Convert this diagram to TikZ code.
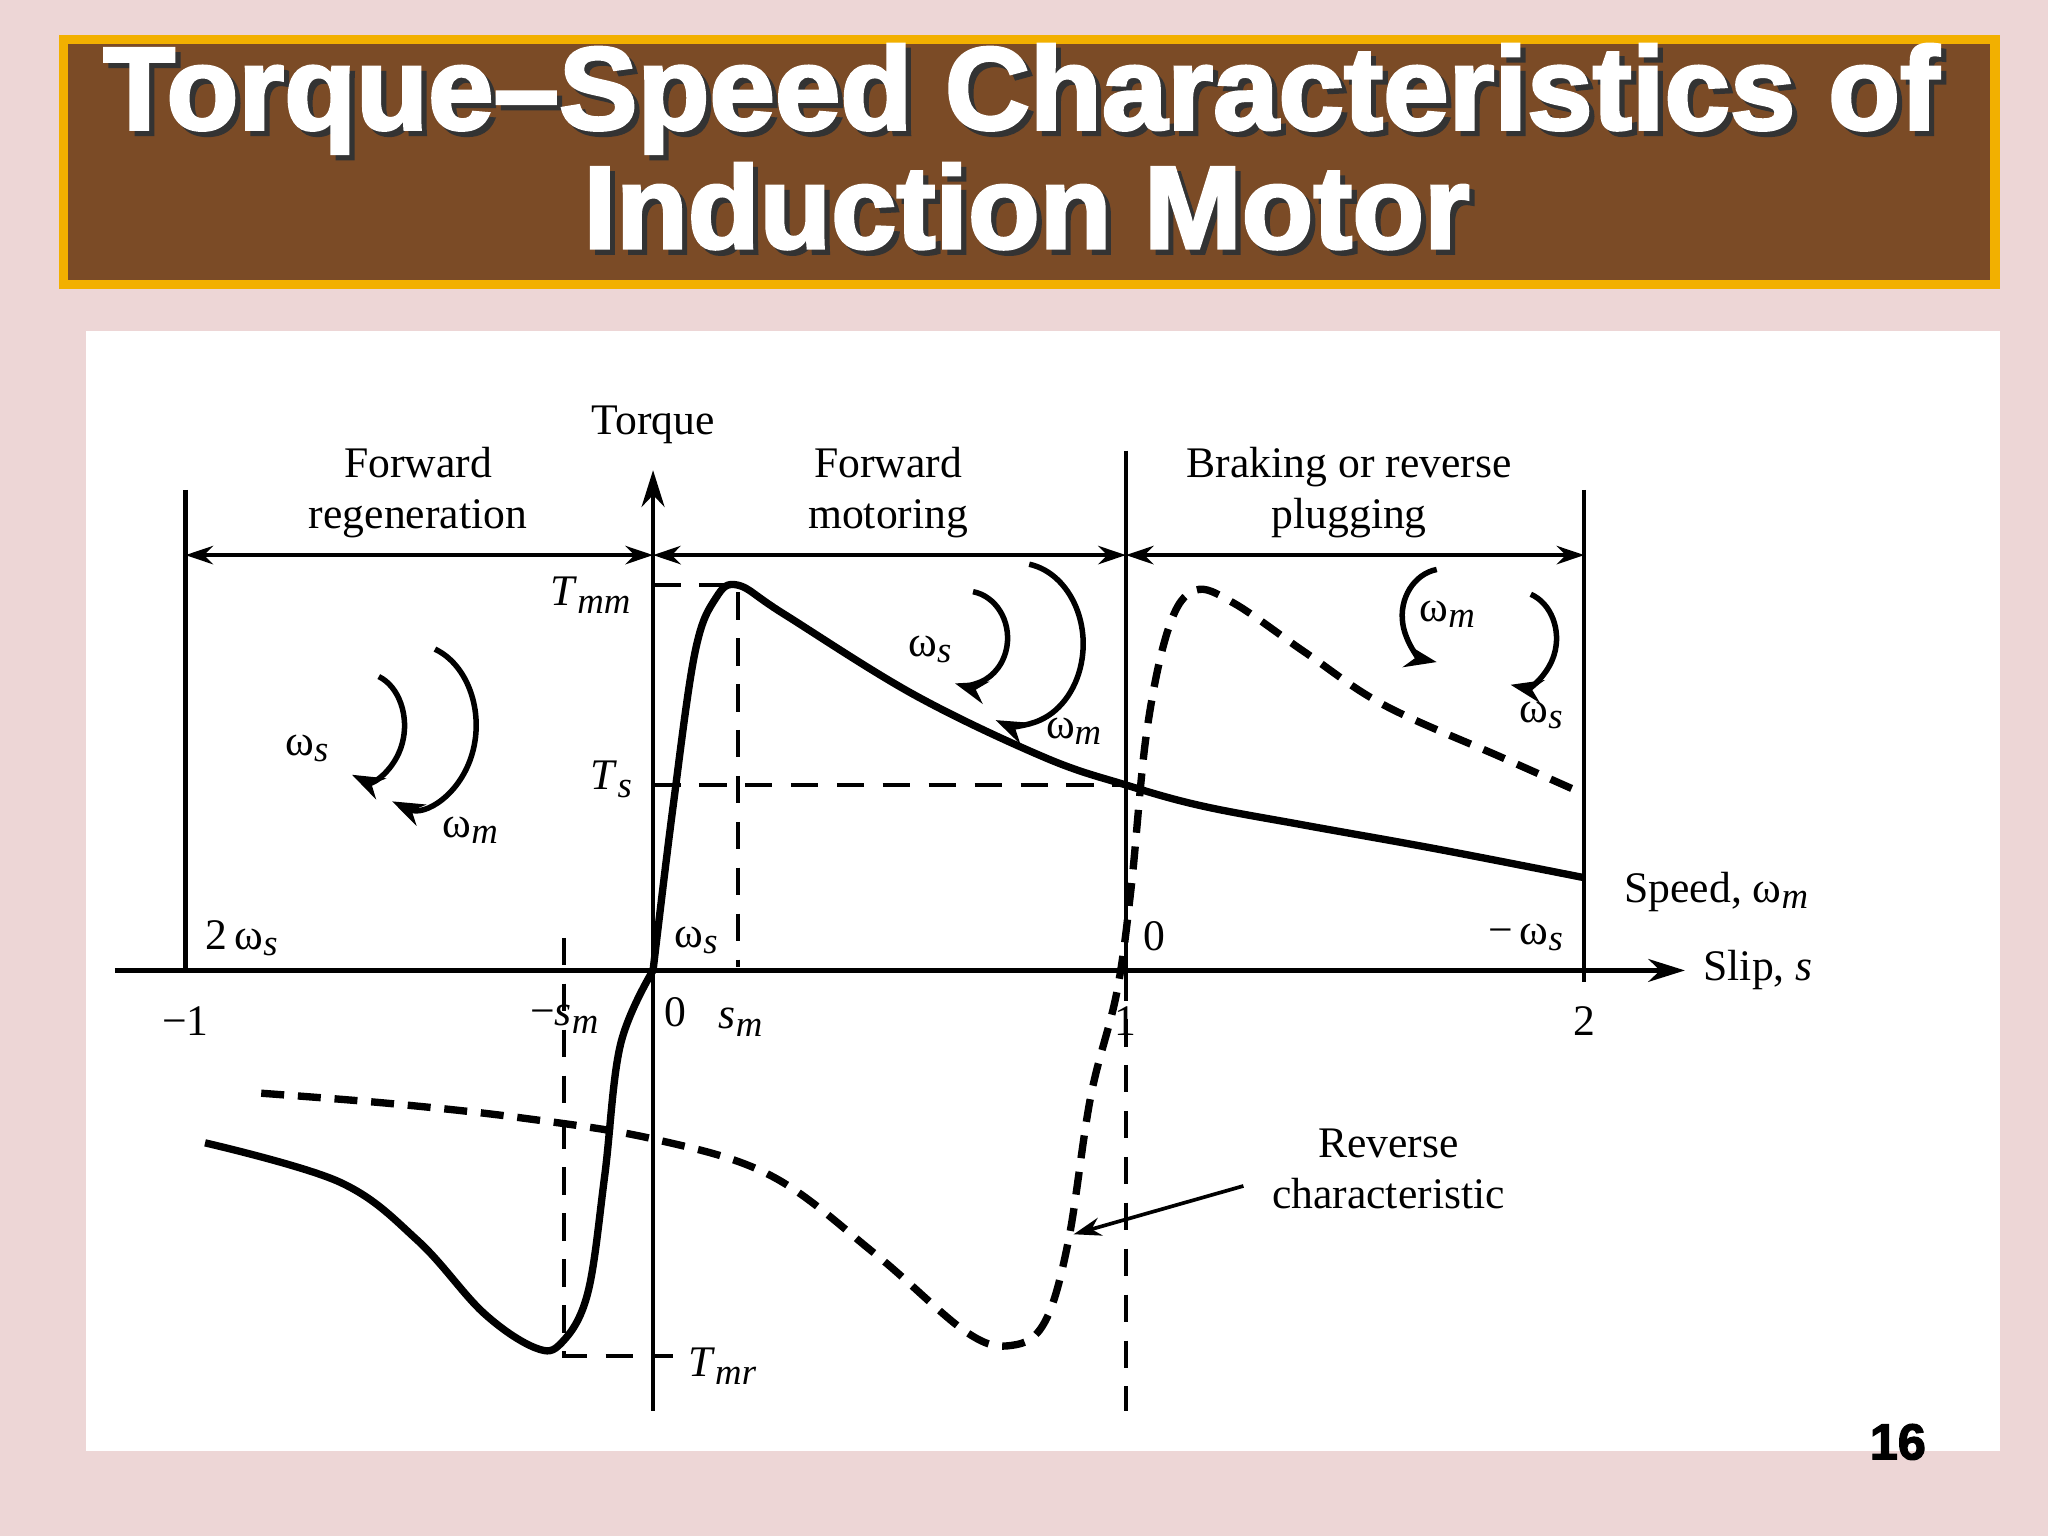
\documentclass[tikz,border=0pt]{standalone}
\usepackage{fontspec}
\setmainfont{Liberation Serif}
\newfontfamily\tfont[FakeBold=2.5]{Liberation Sans Bold}
\usetikzlibrary{arrows.meta}
\definecolor{bgpink}{HTML}{EDD6D6}
\definecolor{brownt}{HTML}{7B4B26}
\definecolor{orangeb}{HTML}{F2B000}
\newcommand{\om}[1]{ω\textit{\raisebox{-0.3ex}{\footnotesize #1}}}
\begin{document}
\begin{tikzpicture}[x=0.01cm,y=-0.01cm,
  ln/.style={line width=0.9pt},
  crv/.style={line width=1.6pt},
  dsh/.style={line width=0.8pt,dash pattern=on 6pt off 4pt},
  dcrv/.style={line width=1.6pt,dash pattern=on 5pt off 3pt},
  lbl/.style={font=\fontsize{9.5}{11}\selectfont,align=center,inner sep=1pt},
  ttl/.style={font=\tfont,anchor=base,inner sep=0},
  arr/.style={line width=1.2pt,-{Stealth[length=7pt,width=5pt]}}]
\useasboundingbox (0,0) rectangle (1568,1176);
\fill[bgpink] (0,0) rectangle (1568,1176);
\node[draw=orangeb,line width=2pt,fill=brownt,minimum width=14.78cm,minimum height=1.87cm,anchor=north west,inner sep=0] (title) at (45,27) {};
\node[ttl,text=black!80] at (786,103) {\resizebox{14.05cm}{!}{Torque–Speed Characteristics of}};
\node[ttl,text=white] (t1) at (782,99) {\resizebox{14.05cm}{!}{Torque–Speed Characteristics of}};
\node[ttl,text=black!80] at (790,194) {\resizebox{6.78cm}{!}{Induction Motor}};
\node[ttl,text=white] (t2) at (786,190) {\resizebox{6.78cm}{!}{Induction Motor}};
\node[fill=white,minimum width=14.65cm,minimum height=8.57cm,anchor=north west,inner sep=0] (panel) at (65,253) {};
\node[font=\tfont\fontsize{11}{13}\selectfont] (pg) at (1453,1104) {16};
% axes
\coordinate (xs) at (88,743); \coordinate (xe) at (1290,743);
\draw[ln,-{Stealth[length=8pt,width=5pt]}] (xs) -- (xe);
\coordinate (ys) at (500,1080); \coordinate (ye) at (500,360);
\draw[ln,-{Stealth[length=8pt,width=5pt]}] (ys) -- (ye);
\coordinate (a1) at (142,375); \coordinate (a2) at (142,745);
\draw[ln] (a1) -- (a2);
\coordinate (b1) at (862,345); \coordinate (b2) at (862,745); \coordinate (b3) at (862,1080);
\draw[ln] (b1) -- (b2); \draw[dsh] (b2) -- (b3);
\coordinate (c1) at (1213,375); \coordinate (c2) at (1213,752);
\draw[ln] (c1) -- (c2);
\coordinate (d1) at (142,425); \coordinate (d2) at (500,425); \coordinate (d3) at (862,425); \coordinate (d4) at (1213,425);
\draw[ln,{Stealth[length=6pt,width=4pt]}-{Stealth[length=6pt,width=4pt]}] (d1) -- (d2);
\draw[ln,{Stealth[length=6pt,width=4pt]}-{Stealth[length=6pt,width=4pt]}] (d2) -- (d3);
\draw[ln,{Stealth[length=6pt,width=4pt]}-{Stealth[length=6pt,width=4pt]}] (d3) -- (d4);
% dashed guides
\coordinate (e1) at (500,448); \coordinate (e2) at (565,448); \coordinate (e3) at (565,740);
\draw[dsh] (e1) -- (e2) -- (e3);
\coordinate (f1) at (500,601); \coordinate (f2) at (862,601);
\draw[dsh] (f1) -- (f2);
\coordinate (g1) at (432,718); \coordinate (g2) at (432,1038); \coordinate (g3) at (515,1038);
\draw[dsh] (g1) -- (g2) -- (g3);
% curves
\draw[crv] plot[smooth,tension=0.6] coordinates {(500,743) (515,620) (532,500) (548,458) (565,448) (600,470) (700,532) (800,580) (862,601) (920,617) (1000,632) (1100,650) (1213,672)};
\draw[crv] plot[smooth,tension=0.6] coordinates {(500,743) (475,800) (463,900) (450,990) (430,1028) (410,1032) (370,1005) (320,950) (260,905) (157,875)};
\draw[dcrv] plot[smooth,tension=0.6] coordinates {(200,837) (300,845) (400,856) (500,872) (590,900) (670,960) (740,1020) (775,1030) (800,1012) (818,950) (835,840) (855,760) (866,680) (878,560) (895,480) (915,452) (945,462) (1000,500) (1060,540) (1150,580) (1213,608)};
% curved arrows
\draw[arr] (290,518) arc[start angle=-70,end angle=110,x radius=30,y radius=40] coordinate (w1);
\draw[arr] (333,497) arc[start angle=-70,end angle=110,x radius=48,y radius=62] coordinate (w2);
\draw[arr] (745,453) arc[start angle=-80,end angle=105,x radius=32,y radius=36] coordinate (w3);
\draw[arr] (788,432) arc[start angle=-80,end angle=110,x radius=50,y radius=62] coordinate (w4);
\draw[arr] (1100,436) arc[start angle=-100,end angle=-260,x radius=32,y radius=36] coordinate (w5);
\draw[arr] (1172,455) arc[start angle=-70,end angle=100,x radius=30,y radius=36] coordinate (w6);
% reverse characteristic pointer
\node[lbl] (rev) at (1063,895) {Reverse\\characteristic};
\coordinate (rp) at (822,945);
\draw[line width=0.8pt,-{Stealth[length=6pt,width=4pt]}] (952,908) -- (rp);
% labels
\node[lbl] (fr) at (320,377) {Forward\\regeneration};
\node[lbl] (tq) at (500,325) {Torque};
\node[lbl] (fm) at (680,377) {Forward\\motoring};
\node[lbl] (br) at (1033,377) {Braking or reverse\\plugging};
\node[lbl] (tmm) at (452,456) {\textit{T}\raisebox{-0.4ex}{\footnotesize\textit{mm}}};
\node[lbl] (ts) at (468,597) {\textit{T}\raisebox{-0.4ex}{\footnotesize\textit{s}}};
\node[lbl] (tmr) at (553,1046) {\textit{T}\raisebox{-0.4ex}{\footnotesize\textit{mr}}};
\node[lbl] (l1) at (235,573) {\om{s}};
\node[lbl] (l2) at (360,636) {\om{m}};
\node[lbl] (l3) at (712,497) {\om{s}};
\node[lbl] (l4) at (822,560) {\om{m}};
\node[lbl] (l5) at (1108,470) {\om{m}};
\node[lbl] (l6) at (1180,548) {\om{s}};
\node[lbl] (tw) at (185,718) {2\,\om{s}};
\node[lbl] (ow) at (533,720) {\om{s}};
\node[lbl] (z1) at (884,717) {0};
\node[lbl] (mw) at (1168,718) {−\,\om{s}};
\node[lbl] (sp) at (1314,683) {Speed, \om{m}};
\node[lbl] (sl) at (1346,743) {Slip, \textit{s}};
\node[lbl] (m1) at (142,782) {−1};
\node[lbl] (msm) at (432,780) {−\textit{s}\raisebox{-0.4ex}{\footnotesize\textit{m}}};
\node[lbl] (z0) at (517,775) {0};
\node[lbl] (sm) at (567,783) {\textit{s}\raisebox{-0.4ex}{\footnotesize\textit{m}}};
\node[lbl] (o1) at (862,782) {1};
\node[lbl] (o2) at (1213,782) {2};
\end{tikzpicture}
\end{document}
